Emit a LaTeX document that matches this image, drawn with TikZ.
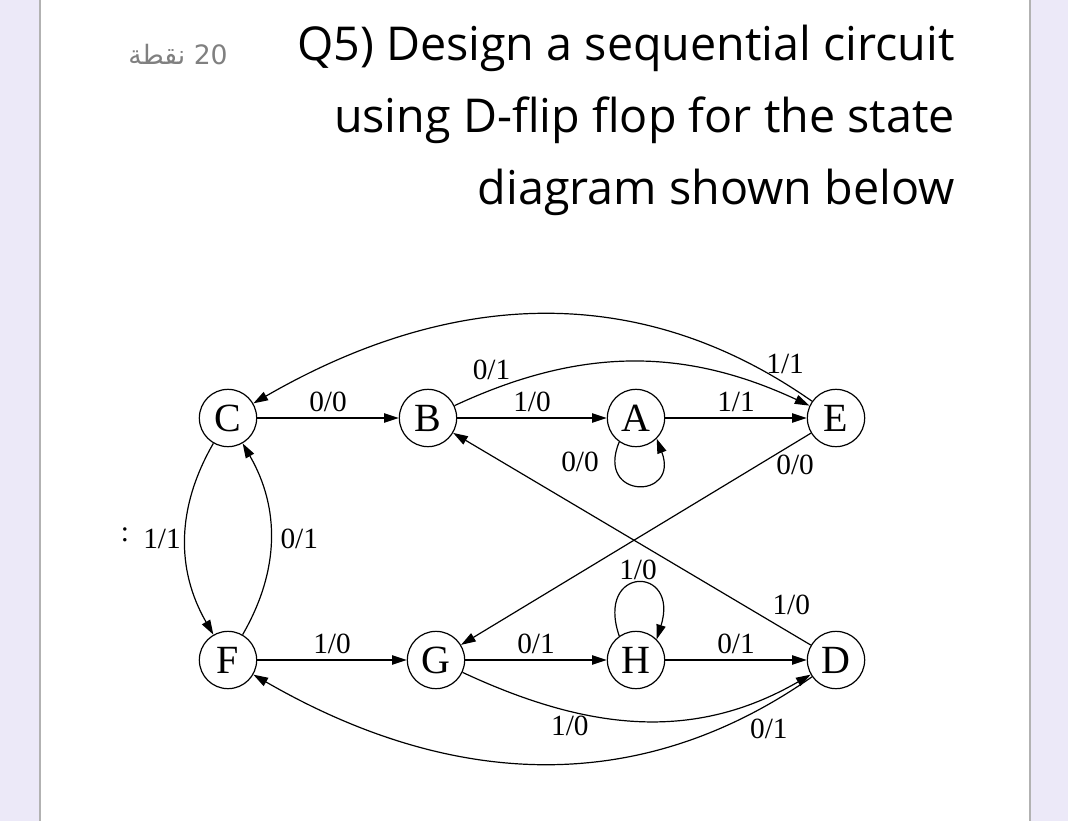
\documentclass[tikz,border=0pt]{standalone}
\usepackage{fontspec}
\setmainfont{Liberation Serif}
\newfontfamily\titlefont{Open Sans}
\newfontfamily\arabicfont[Script=Arabic]{DejaVu Sans}
\TeXXeTstate=1
\usetikzlibrary{arrows.meta}
\definecolor{lav}{RGB}{236,233,248}
\begin{document}
\begin{tikzpicture}[x=0.75pt,y=-0.75pt,
  st/.style={circle,draw,line width=0.9pt,minimum size=43pt,inner sep=0pt,font=\fontsize{30}{30}\selectfont},
  ed/.style={line width=0.9pt,-{Triangle[length=11pt,width=7pt]}},
  lb/.style={font=\fontsize{22}{22}\selectfont,inner sep=1pt}]
\useasboundingbox (0,0) rectangle (1068,821);
\fill[lav] (0,0) rectangle (40,821);
\fill[lav] (1030,0) rectangle (1068,821);
\draw[gray!60,line width=1pt] (40,0) -- (40,821);
\draw[gray!60,line width=1pt] (1030,0) -- (1030,821);
\node[text=gray,font=\fontsize{20}{20}\arabicfont] (pts) at (178,55) {\beginR 20 نقطة\endR};
\node[font=\fontsize{35}{54}\titlefont,align=right,anchor=north east,inner sep=0pt] (ttl) at (955,25)
  {Q5) Design a sequential circuit\\using D-flip flop for the state\\diagram shown below};
\node[font=\fontsize{22}{22}\selectfont] (colon) at (125,535) {:};
\node[st] (C) at (228,418) {C};
\node[st] (B) at (428,418) {B};
\node[st] (A) at (636,418) {A};
\node[st] (E) at (836,418) {E};
\node[st] (F) at (228,660) {F};
\node[st] (G) at (436,660) {G};
\node[st] (H) at (636,660) {H};
\node[st] (D) at (836,660) {D};
\draw[ed] (C) -- node[lb,above=3pt]{0/0} (B);
\draw[ed] (B) -- node[lb,above=3pt]{1/0} (A);
\draw[ed] (A) -- node[lb,above=3pt]{1/1} (E);
\draw[ed] (F) -- node[lb,above=3pt]{1/0} (G);
\draw[ed] (G) -- node[lb,above=3pt]{0/1} (H);
\draw[ed] (H) -- node[lb,above=3pt]{0/1} (D);
\draw[ed] (B) to[out=25,in=155] node[lb,pos=0.1,above=6pt]{0/1} (E);
\draw[ed] (E) to[out=145,in=30] node[lb,pos=0.05,above=6pt]{1/1} (C);
\draw[ed] (E) -- node[lb,pos=0.15,right=12pt]{0/0} (G);
\draw[ed] (D) -- node[lb,pos=0.12,above right=2pt]{1/0} (B);
\draw[ed] (C) to[out=240,in=120] node[lb,left=2pt]{1/1} (F);
\draw[ed] (F) to[out=60,in=-60] node[lb,right=6pt]{0/1} (C);
\draw[ed] (G) to[out=-25,in=-150] node[lb,pos=0.3,below=2pt]{1/0} (D);
\draw[ed] (D) to[out=-145,in=-30] node[lb,pos=0.08,below=10pt]{0/1} (F);
\draw[ed] (A.-125) .. controls (595,500) and (680,500) .. (A.-45);
\node[lb] (l00) at (580,462) {0/0};
\draw[ed] (H.125) .. controls (595,565) and (680,565) .. (H.45);
\node[lb] (l10) at (638,570) {1/0};
\end{tikzpicture}
\end{document}
